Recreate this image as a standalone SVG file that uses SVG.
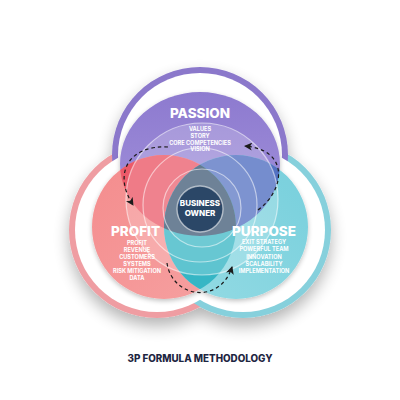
<svg xmlns="http://www.w3.org/2000/svg" width="400" height="400" viewBox="0 0 400 400">
  <defs>
    <style>
      .t { font-family: Inter, "Liberation Sans", "DejaVu Sans", sans-serif; fill: #ffffff; text-anchor: middle; }
      .head { font-size: 13.5px; font-weight: 800; }
      .item { font-size: 5.6px; font-weight: 700; }
      .bo { font-size: 8px; font-weight: 800; }
      .title { font-family: Inter, "Liberation Sans", sans-serif; font-size: 9.8px; font-weight: 800; fill: #1e2642; text-anchor: middle; }
      .dash { fill: none; stroke: #1b1b1b; stroke-width: 1.2; stroke-dasharray: 3.5 3; }
      .spiral { stroke: #ffffff; stroke-opacity: 0.55; stroke-width: 1.2; }
    </style>
    <filter id="outerShadow" x="-20%" y="-20%" width="140%" height="150%">
      <feGaussianBlur in="SourceAlpha" stdDeviation="8"/>
      <feOffset dx="0" dy="8" result="b"/>
      <feComponentTransfer><feFuncA type="linear" slope="0.3"/></feComponentTransfer>
      <feMerge><feMergeNode/><feMergeNode in="SourceGraphic"/></feMerge>
    </filter>
    <filter id="innerShadow" x="-20%" y="-20%" width="140%" height="140%">
      <feGaussianBlur in="SourceAlpha" stdDeviation="2.5"/>
      <feOffset dx="0" dy="2"/>
      <feComponentTransfer><feFuncA type="linear" slope="0.25"/></feComponentTransfer>
      <feMerge><feMergeNode/><feMergeNode in="SourceGraphic"/></feMerge>
    </filter>
    <linearGradient id="gPassion" x1="0" y1="0" x2="0" y2="1">
      <stop offset="0" stop-color="#8d7acf"/>
      <stop offset="1" stop-color="#a595dd"/>
    </linearGradient>
    <linearGradient id="gProfit" x1="0" y1="0" x2="1" y2="1">
      <stop offset="0" stop-color="#f48c8d"/>
      <stop offset="1" stop-color="#f6a1a1"/>
    </linearGradient>
    <linearGradient id="gPurpose" x1="1" y1="0" x2="0" y2="1">
      <stop offset="0" stop-color="#76cfdc"/>
      <stop offset="1" stop-color="#95dbe4"/>
    </linearGradient>
    <clipPath id="cpPassion"><ellipse cx="200" cy="164" rx="80" ry="72"/></clipPath>
    <clipPath id="cpProfit"><circle cx="164" cy="227" r="72"/></clipPath>
    <clipPath id="cpPurpose"><circle cx="236" cy="227" r="72"/></clipPath>
    <marker id="arrow" markerUnits="userSpaceOnUse" markerWidth="8" markerHeight="8" refX="7" refY="4" orient="auto">
      <path d="M0,0 L8,4 L0,8 L2,4 Z" fill="#1b1b1b"/>
    </marker>
  </defs>

  <rect x="0" y="0" width="400" height="400" fill="#ffffff"/>

  <!-- outer decorative rings -->
  <g id="rings">
    <g filter="url(#outerShadow)">
      <circle cx="157" cy="230" r="88" fill="#ef9da2"/>
      <circle cx="243" cy="230" r="88" fill="#86d0dc"/>
      <circle cx="200" cy="155" r="88" fill="#8b78cb"/>
    </g>
    <circle cx="157" cy="230" r="82" fill="#ffffff"/>
    <circle cx="243" cy="230" r="82" fill="#ffffff"/>
    <circle cx="200" cy="155" r="82" fill="#ffffff"/>
  </g>

  <g id="fills" filter="url(#innerShadow)">
    <ellipse cx="200" cy="164" rx="80" ry="72" fill="url(#gPassion)"/>
    <circle cx="164" cy="227" r="72" fill="url(#gProfit)"/>
    <circle cx="236" cy="227" r="72" fill="url(#gPurpose)"/>
  </g>

  <g id="overlaps">
    <circle cx="164" cy="227" r="72" fill="#ec5a69" clip-path="url(#cpPassion)"/>
    <circle cx="236" cy="227" r="72" fill="#5371c2" clip-path="url(#cpPassion)"/>
    <circle cx="236" cy="227" r="72" fill="#36b6c5" clip-path="url(#cpProfit)"/>
    <g clip-path="url(#cpPassion)">
      <circle cx="236" cy="227" r="72" fill="#34506e" clip-path="url(#cpProfit)"/>
    </g>
  </g>

  <g id="spiral">
    <circle cx="202" cy="199" r="76" fill="#ffffff" fill-opacity="0.2" class="spiral"/>
    <circle cx="200" cy="205" r="57" fill="#ffffff" fill-opacity="0.06" class="spiral"/>
    <circle cx="202" cy="208" r="39" fill="#ffffff" fill-opacity="0.06" class="spiral"/>
  </g>

  <g id="node-passion">
    <text class="t head" x="200" y="118">PASSION</text>
    <text class="t item" x="200" y="131">VALUES</text>
    <text class="t item" x="200" y="138">STORY</text>
    <text class="t item" x="200" y="144.5">CORE COMPETENCIES</text>
    <text class="t item" x="200" y="151">VISION</text>
  </g>

  <g id="node-profit">
    <text class="t head" x="135.5" y="235.5">PROFIT</text>
    <text class="t item" x="137" y="245">PROFIT</text>
    <text class="t item" x="137" y="252">REVENUE</text>
    <text class="t item" x="137" y="259">CUSTOMERS</text>
    <text class="t item" x="137" y="266">SYSTEMS</text>
    <text class="t item" x="137" y="273">RISK MITIGATION</text>
    <text class="t item" x="137" y="280">DATA</text>
  </g>

  <g id="node-purpose">
    <text class="t head" x="264" y="235.5">PURPOSE</text>
    <text class="t item" x="264" y="244">EXIT STRATEGY</text>
    <text class="t item" x="264" y="251">POWERFUL TEAM</text>
    <text class="t item" x="264" y="258.5">INNOVATION</text>
    <text class="t item" x="264" y="266">SCALABILITY</text>
    <text class="t item" x="264" y="273">IMPLEMENTATION</text>
  </g>

  <g id="node-business-owner">
    <circle cx="200" cy="209" r="23" fill="#2b4767" stroke="#ffffff" stroke-opacity="0.55" stroke-width="1.4"/>
    <text class="t bo" x="200" y="205.5">BUSINESS</text>
    <text class="t bo" x="200" y="216">OWNER</text>
  </g>

  <g id="connectors">
    <path class="dash" d="M168,147 C130,145 112,172 133,205" marker-end="url(#arrow)"/>
    <path class="dash" d="M167,263 C172,298 220,305 232,267" marker-end="url(#arrow)"/>
    <path class="dash" d="M258,210 C285,190 290,150 245,146" marker-end="url(#arrow)"/>
  </g>

  <text class="title" x="200" y="362">3P FORMULA METHODOLOGY</text>
</svg>
